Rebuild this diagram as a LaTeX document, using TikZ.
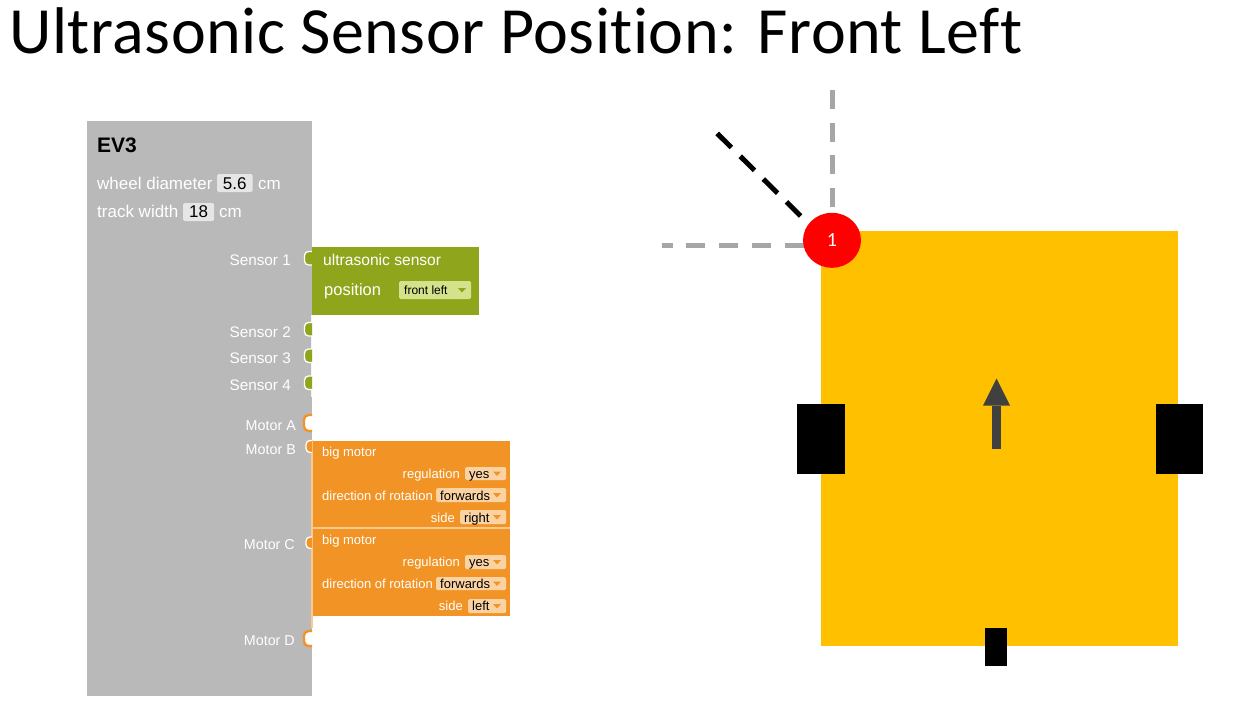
\documentclass[tikz,border=0pt]{standalone}
\usepackage{fontspec}
\setmainfont{Liberation Sans}
\newfontfamily\slidefont{Carlito}[Ligatures=NoCommon,LetterSpace=0.8]
\usetikzlibrary{arrows.meta,shapes.geometric}
\definecolor{blockgray}{RGB}{185,185,185}
\definecolor{sensorgreen}{RGB}{143,166,28}
\definecolor{sensorfield}{RGB}{212,226,139}
\definecolor{motororange}{RGB}{242,148,37}
\definecolor{motorfield}{RGB}{251,211,163}
\definecolor{robotyellow}{RGB}{255,192,0}
\definecolor{dashgray}{RGB}{166,166,166}
\definecolor{arrowgray}{RGB}{64,64,64}
\definecolor{fieldgray}{RGB}{230,230,230}
\tikzset{
  txt/.style={anchor=base west,inner sep=0pt,text=white,font=\fontsize{#1}{#1}\selectfont},
  rtxt/.style={anchor=base east,inner sep=0pt,text=white,font=\fontsize{#1}{#1}\selectfont},
  val/.style={anchor=base west,inner sep=0pt,font=\fontsize{#1}{#1}\selectfont},
  box/.style={anchor=north west,inner sep=0pt,outer sep=0pt,draw=none},
  guide/.style={draw=dashgray,line width=5pt,dash pattern=on 19pt off 13.7pt},
  heading/.style={draw=black,line width=5pt,dash pattern=on 20pt off 12.5pt},
  notch/.style={line width=1.3pt,rounded corners=4pt},
  hollow notch/.style={line width=2.4pt,rounded corners=4.5pt}
}
% dropdown triangle
\newcommand{\ddtri}[3]{\fill[#3] (#1-4,#2-2) -- (#1+4,#2-2) -- (#1,#2+2.5) -- cycle;}
% block socket on the right edge of the EV3 block
\newcommand{\socket}[6][notch]{\filldraw[#1,fill=#5,draw=#6] (312,#3) -- (#2,#3) -- (#2,#4) -- (312,#4);}
\begin{document}
\begin{tikzpicture}[x=1pt,y=-1pt]
\useasboundingbox (0,0) rectangle (1236,725);
\fill[white] (0,0) rectangle (1236,725);

% Title
\node[anchor=base west,inner sep=0pt,font=\slidefont\fontsize{66}{66}\selectfont] (title) at (9,53.5) {Ultrasonic Sensor Position: Front Left};

% EV3 block
\node[box,fill=blockgray,minimum width=224.5pt,minimum height=575pt] (ev3) at (87,121) {};
\node[anchor=base west,inner sep=0pt,font=\bfseries\fontsize{21}{21}\selectfont] (ev3name) at (97,152) {EV3};
\node[txt=17] (wd) at (97,189) {wheel diameter};
\fill[fieldgray,rounded corners=1.5pt] (217,174) rectangle (252.5,192);
\node[anchor=base,inner sep=0pt,font=\fontsize{17}{17}\selectfont] (wdval) at (234.7,189) {5.6};
\node[txt=17] (wdcm) at (258,189) {cm};
\node[txt=17] (tw) at (97,217.5) {track width};
\fill[fieldgray,rounded corners=1.5pt] (183,203) rectangle (214,221);
\node[anchor=base,inner sep=0pt,font=\fontsize{17}{17}\selectfont] (twval) at (198.5,217.5) {18};
\node[txt=17] (twcm) at (219,217.5) {cm};

% Port labels
\node[rtxt=15.3] (s1) at (291,265) {Sensor 1};
\node[rtxt=15.3] (s2) at (291,337) {Sensor 2};
\node[rtxt=15.3] (s3) at (291,363) {Sensor 3};
\node[rtxt=15.3] (s4) at (291,390) {Sensor 4};
\node[rtxt=14.3] (ma) at (296,430) {Motor A};
\node[rtxt=14.3] (mb) at (296,454) {Motor B};
\node[rtxt=14.3] (mc) at (295,549) {Motor C};
\node[rtxt=14.3] (md) at (295,645) {Motor D};

% Sockets
\draw[white!85!blockgray,line width=1pt] (311.5,315) -- (311.5,397);
\draw[motororange!50!white,line width=1.2pt] (312,440) -- (312,628);
\socket{304.5}{251.5}{265}{sensorgreen}{white}
\socket{304.5}{322.5}{336}{sensorgreen}{white}
\socket{304.5}{349}{362.5}{sensorgreen}{white}
\socket{304.5}{376}{389.5}{sensorgreen}{white}
\socket[hollow notch]{304}{415}{431}{white}{motororange}
\socket{306}{440.5}{452.5}{motororange}{white}
\socket{306}{537}{548.5}{motororange}{white}
\socket[hollow notch]{304}{631}{646}{white}{motororange}

% Sensor block
\node[box,fill=sensorgreen,minimum width=167pt,minimum height=68pt] (sensor) at (312,247) {};
\node[txt=15.6] (sname) at (323,265.5) {ultrasonic sensor};
\node[txt=16.5] (spos) at (324,295) {position};
\fill[sensorfield,rounded corners=1.5pt] (399,281) rectangle (471,299);
\node[val=12] (sval) at (404,294) {front left};
\ddtri{462}{290}{sensorgreen}

% Upper motor block
\node[box,fill=motororange,minimum width=196.5pt,minimum height=86pt] (m1) at (313,441) {};
\fill[motororange!50!white] (313,527) rectangle (509.5,529);
\node[txt=13] (m1name) at (322,456) {big motor};
\node[rtxt=13] (m1reg) at (460,478) {regulation};
\fill[motorfield,rounded corners=1.5pt] (465,467) rectangle (506,480);
\node[val=13] (m1regv) at (469,478) {yes};
\ddtri{497}{473.5}{motororange}
\node[txt=13] (m1dir) at (322,500) {direction of rotation};
\fill[motorfield,rounded corners=1.5pt] (436,488) rectangle (506,502);
\node[val=13] (m1dirv) at (440,500) {forwards};
\ddtri{497}{495}{motororange}
\node[rtxt=13] (m1side) at (455,522) {side};
\fill[motorfield,rounded corners=1.5pt] (460,510) rectangle (506,524);
\node[val=13] (m1sidev) at (464,522) {right};
\ddtri{497}{517}{motororange}

% Lower motor block
\node[box,fill=motororange,minimum width=196.5pt,minimum height=86.5pt] (m2) at (313,529) {};
\node[txt=13] (m2name) at (322,544) {big motor};
\node[rtxt=13] (m2reg) at (460,566) {regulation};
\fill[motorfield,rounded corners=1.5pt] (465,555) rectangle (506,569);
\node[val=13] (m2regv) at (469,566) {yes};
\ddtri{497}{562}{motororange}
\node[txt=13] (m2dir) at (322,588) {direction of rotation};
\fill[motorfield,rounded corners=1.5pt] (436,577) rectangle (506,590);
\node[val=13] (m2dirv) at (440,588) {forwards};
\ddtri{497}{583.5}{motororange}
\node[rtxt=13] (m2side) at (463,610) {side};
\fill[motorfield,rounded corners=1.5pt] (468,599) rectangle (506,613);
\node[val=13] (m2sidev) at (472,610) {left};
\ddtri{497}{606}{motororange}

% Robot
\node[box,fill=robotyellow,minimum width=357pt,minimum height=415pt] (robot) at (821,231) {};
\node[box,fill=black,minimum width=48pt,minimum height=70pt] (lwheel) at (797,404) {};
\node[box,fill=black,minimum width=47pt,minimum height=70pt] (rwheel) at (1156,404) {};
\node[box,fill=black,minimum width=22pt,minimum height=38pt] (caster) at (985,628) {};
\coordinate (atail) at (996.5,448.5);
\coordinate (ahead) at (996.5,378.5);
\draw[arrowgray,line width=9pt,-{Triangle[length=27pt,width=27pt,line width=0pt]}] (atail) -- (ahead);

% Sensor marker and beams
\coordinate (gleft) at (662,245);
\coordinate (gup) at (832.3,90);
\coordinate (beam) at (716.7,133);
\coordinate (gleftstart) at (803.5,245);
\coordinate (gupstart) at (832.3,207);
\coordinate (beamstart) at (800.7,216);
\draw[guide] (gleftstart) -- (gleft);
\draw[guide] (gupstart) -- (gup);
\draw[heading] (beamstart) -- (beam);
\node[ellipse,fill=red,minimum width=58pt,minimum height=55pt,inner sep=0pt,text=white,font=\slidefont\fontsize{20}{20}\selectfont] (marker) at (832,240.3) {1};
\end{tikzpicture}
\end{document}
